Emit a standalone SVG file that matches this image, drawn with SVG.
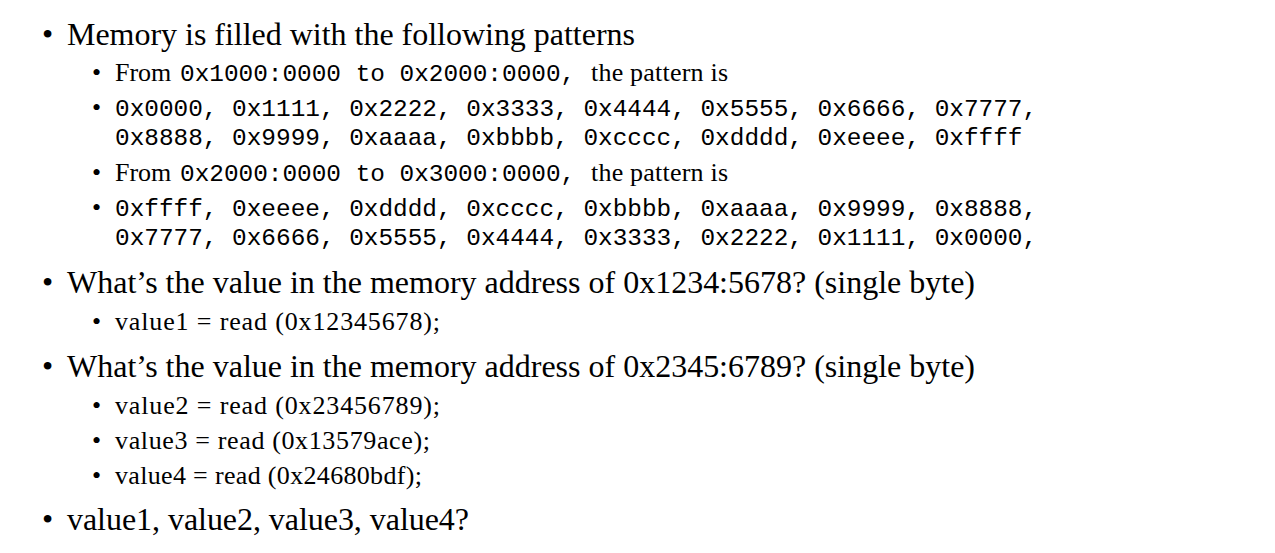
<svg xmlns="http://www.w3.org/2000/svg" width="1275" height="553" viewBox="0 0 1275 553">
<style>
.l1{font-family:"Liberation Serif",serif;font-size:32px;fill:#000}
.l2{font-family:"Liberation Serif",serif;font-size:26px;fill:#000}
.m{font-family:"Liberation Mono",monospace;font-size:24.4px;fill:#000}
</style>
<rect width="1275" height="553" fill="#fff"/>
<g id="text">
<text class="l1" x="42" y="45">•</text><text class="l1" x="67" y="45" textLength="568">Memory is filled with the following patterns</text>
<text class="l2" x="92" y="81">•</text><text class="l2" x="115" y="81">From</text><text class="m" x="180" y="81">0x1000:0000 to 0x2000:0000,</text><text class="l2" x="591" y="81" textLength="137">the pattern is</text>
<text class="l2" x="92" y="116">•</text><text class="m" x="115" y="116">0x0000, 0x1111, 0x2222, 0x3333, 0x4444, 0x5555, 0x6666, 0x7777,</text>
<text class="m" x="115" y="145">0x8888, 0x9999, 0xaaaa, 0xbbbb, 0xcccc, 0xdddd, 0xeeee, 0xffff</text>
<text class="l2" x="92" y="181">•</text><text class="l2" x="115" y="181">From</text><text class="m" x="180" y="181">0x2000:0000 to 0x3000:0000,</text><text class="l2" x="591" y="181" textLength="137">the pattern is</text>
<text class="l2" x="92" y="216">•</text><text class="m" x="115" y="216">0xffff, 0xeeee, 0xdddd, 0xcccc, 0xbbbb, 0xaaaa, 0x9999, 0x8888,</text>
<text class="m" x="115" y="245">0x7777, 0x6666, 0x5555, 0x4444, 0x3333, 0x2222, 0x1111, 0x0000,</text>
<text class="l1" x="42" y="293">•</text><text class="l1" x="67" y="293" textLength="908">What’s the value in the memory address of 0x1234:5678? (single byte)</text>
<text class="l2" x="92" y="330">•</text><text class="l2" x="115" y="330" textLength="325">value1 = read (0x12345678);</text>
<text class="l1" x="42" y="377">•</text><text class="l1" x="67" y="377" textLength="908">What’s the value in the memory address of 0x2345:6789? (single byte)</text>
<text class="l2" x="92" y="414">•</text><text class="l2" x="115" y="414" textLength="325">value2 = read (0x23456789);</text>
<text class="l2" x="92" y="449">•</text><text class="l2" x="115" y="449" textLength="315">value3 = read (0x13579ace);</text>
<text class="l2" x="92" y="484">•</text><text class="l2" x="115" y="484" textLength="307">value4 = read (0x24680bdf);</text>
<text class="l1" x="42" y="530">•</text><text class="l1" x="67" y="530" textLength="402">value1, value2, value3, value4?</text>
</g>
</svg>
